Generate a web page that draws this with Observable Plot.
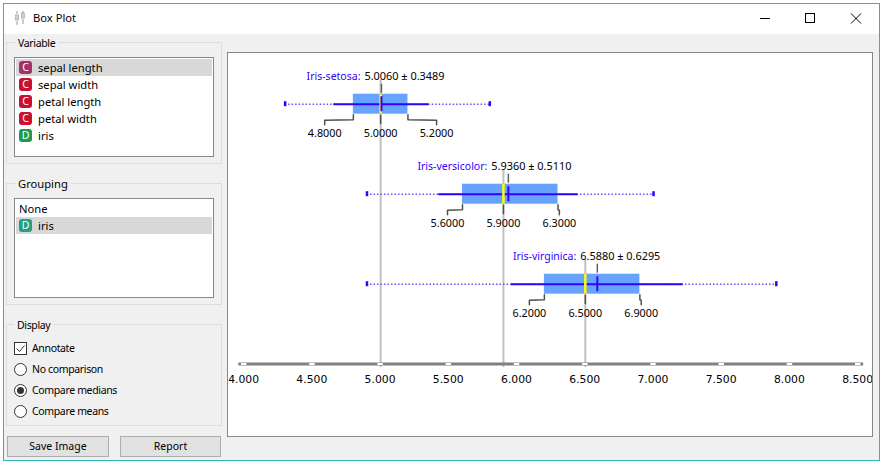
<!DOCTYPE html>
<html>
<head>
<meta charset="utf-8">
<script src="https://cdn.jsdelivr.net/npm/d3@7"></script>
<script src="https://cdn.jsdelivr.net/npm/@observablehq/plot@0.6"></script>
<style>
html,body{margin:0;padding:0;background:#fff;}
body{width:883px;height:464px;position:relative;overflow:hidden;font-family:"Noto Sans",sans-serif;font-size:11.2px;color:#000;}
.a{position:absolute;box-sizing:border-box;}
.t{position:absolute;line-height:16px;height:16px;white-space:nowrap;}
.s{font-size:10.5px;letter-spacing:-.35px;}
.group{border:1px solid #dcdcdc;}
.list{background:#fff;border:1px solid #828790;}
.sel{background:#d8d8d8;}
.ic{position:absolute;box-sizing:border-box;width:13px;height:13px;border-radius:3px;color:#fff;font-size:10.5px;line-height:13px;text-align:center;}
.radio{position:absolute;box-sizing:border-box;width:13px;height:13px;border-radius:50%;border:1px solid #333;background:#fff;}
.btn{position:absolute;box-sizing:border-box;background:#e1e1e1;border:1px solid #adadad;height:21px;line-height:19px;text-align:center;font-size:10.5px;}
</style>
</head>
<body>
<div class="a" id="win" style="left:3px;top:3px;width:877px;height:458px;background:#f0f0f0;border:1px solid #2db4c2;"></div>
<div class="a" style="left:4px;top:4px;width:875px;height:30px;background:#fff;"></div>
<svg class="a" style="left:14px;top:10px" width="12" height="16" viewBox="0 0 12 16">
  <g fill="#d0d0d0" stroke="#999" stroke-width=".6"><rect x="1.5" y="5" width="3" height="5"/><rect x="7.5" y="3" width="3" height="5"/></g>
  <g stroke="#999" stroke-width="1"><path d="M3 1v3M3 11v4M9 1v2M9 9v5"/></g>
</svg>
<div class="t" style="left:33px;top:10px;">Box Plot</div>
<svg class="a" style="left:755px;top:8px" width="112" height="20" viewBox="0 0 112 20">
  <path d="M5 10.5h10" stroke="#000" fill="none"/>
  <rect x="50.5" y="5.5" width="9" height="9" fill="none" stroke="#000"/>
  <path d="M96 5.5l10 10M106 5.5l-10 10" stroke="#000" fill="none"/>
</svg>

<div class="a group" style="left:6px;top:42px;width:216px;height:122px;"></div>
<div class="t s" style="left:15px;top:35px;background:#f0f0f0;padding:0 3px;">Variable</div>
<div class="a list" style="left:14px;top:57px;width:200px;height:100px;"></div>
<div class="a sel" style="left:16px;top:59px;width:196px;height:17px;"></div>
<div class="ic" style="left:19px;top:61px;background:#a5306b;">C</div><div class="t" style="left:38px;top:60px;">sepal length</div>
<div class="ic" style="left:19px;top:78px;background:#c9102f;">C</div><div class="t" style="left:38px;top:77px;">sepal width</div>
<div class="ic" style="left:19px;top:95px;background:#c9102f;">C</div><div class="t" style="left:38px;top:94px;">petal length</div>
<div class="ic" style="left:19px;top:112px;background:#c9102f;">C</div><div class="t" style="left:38px;top:111px;">petal width</div>
<div class="ic" style="left:19px;top:129px;background:#1f9a4c;">D</div><div class="t" style="left:38px;top:128px;">iris</div>

<div class="a group" style="left:6px;top:183px;width:216px;height:122px;"></div>
<div class="t" style="left:15px;top:176px;background:#f0f0f0;padding:0 3px;">Grouping</div>
<div class="a list" style="left:14px;top:198px;width:200px;height:100px;"></div>
<div class="t" style="left:19px;top:201px;">None</div>
<div class="a sel" style="left:16px;top:217px;width:196px;height:17px;"></div>
<div class="ic" style="left:19px;top:219px;background:#25a07f;">D</div><div class="t" style="left:38px;top:218px;">iris</div>

<div class="a group" style="left:6px;top:324px;width:216px;height:102px;"></div>
<div class="t s" style="left:14px;top:317px;background:#f0f0f0;padding:0 3px;">Display</div>
<div class="a" style="left:14px;top:342px;width:13px;height:13px;background:#fff;border:1px solid #333;"></div>
<svg class="a" style="left:14px;top:342px" width="13" height="13"><path d="M2.5 6.5l3 3 5-6" fill="none" stroke="#333"/></svg>
<div class="t s" style="left:32px;top:340px;">Annotate</div>
<div class="radio" style="left:14px;top:363px;"></div><div class="t s" style="left:32px;top:361px;">No comparison</div>
<div class="radio" style="left:14px;top:384px;"></div><div class="a" style="left:17px;top:387px;width:7px;height:7px;border-radius:50%;background:#333;"></div><div class="t s" style="left:32px;top:382px;">Compare medians</div>
<div class="radio" style="left:14px;top:405px;"></div><div class="t s" style="left:32px;top:403px;">Compare means</div>
<div class="btn" style="left:7px;top:436px;width:102px;">Save Image</div>
<div class="btn" style="left:120px;top:436px;width:101px;">Report</div>

<div class="a" id="panel" style="left:227px;top:52px;width:646px;height:385px;background:#fff;border:1px solid #828790;overflow:hidden;"></div>

<script>
const species = ["Iris-setosa", "Iris-versicolor", "Iris-virginica"];
const minima  = [4.3, 4.9, 4.9];
const maxima  = [5.8, 7.0, 7.9];
const lowerQ  = [4.8, 5.6, 6.2];
const medians = [5.0, 5.9, 6.5];
const upperQ  = [5.2, 6.3, 6.9];
const means   = [5.006, 5.936, 6.588];
const stdevs  = [0.3489, 0.5110, 0.6295];
const axisTicks = [4, 4.5, 5, 5.5, 6, 6.5, 7, 7.5, 8, 8.5];

const rows = species.map((name, i) => ({
  name, row: i, min: minima[i], max: maxima[i], q1: lowerQ[i], med: medians[i], q3: upperQ[i],
  mean: means[i], sd: stdevs[i]
}));

// scale geometry (1 row = 90 px, x = 136.44 px per unit)
const rowPx = 90;
const off = px => px / rowPx;
const axisRow = 2.8865;
const labelGap = 0.41;
const fmt4 = d3.format(".4f");
const lowLabel = d => Math.min(d.q1, d.med - labelGap);
const highLabel = d => Math.max(d.q3, d.med + labelGap);

const connectors = rows.flatMap(d => [
  [d.q1, 10.5, "l"], [d.q1, 15.5, "l"], [lowLabel(d), 16, "l"], [lowLabel(d), 20.5, "l"],
  [d.q3, 10.5, "h"], [d.q3, 15.5, "h"], [highLabel(d), 16, "h"], [highLabel(d), 20.5, "h"]
].map(([x, o, side]) => ({x, y: d.row + off(o), id: d.name + side})));

const blue = "#3300ff";
const chartFont = "'DejaVu Sans', sans-serif";
const labelFont = "'Noto Sans', sans-serif";

const chart = Plot.plot({
  width: 644, height: 383,
  marginTop: 0, marginRight: 0, marginLeft: 0, marginBottom: 72,
  x: {domain: [4, 8.5], range: [15.7, 629.7]},
  y: {domain: [0, 3], range: [50.7, 320.7], axis: null},
  style: {background: "transparent", overflow: "hidden", display: "block", maxWidth: "none"},
  marks: [
    // comparison lines at the medians
    Plot.ruleX(rows, {x: "med", y1: d => d.row - off(24.5), y2: axisRow + off(3.5), stroke: "#c0c0c0", strokeWidth: 2}),
    // axis
    Plot.ruleY([axisRow], {x1: 3.96, x2: 8.54, stroke: "#808080", strokeWidth: 3}),
    Plot.ruleY(axisTicks, {y: axisRow, x1: d => d - 0.02, x2: d => d + 0.02, stroke: "#fff", strokeWidth: 2}),
    Plot.axisX(axisTicks, {anchor: "bottom", tickSize: 0, tickPadding: 11, label: null, tickFormat: d3.format(".3f"),
      fontSize: 10.8, fontFamily: chartFont, fill: "#000", dx: -0.6}),
    // min to max
    Plot.ruleY(rows, {y: "row", x1: "min", x2: "max", stroke: "#6a4dff", strokeWidth: 1.5, strokeDasharray: "1.5 2"}),
    Plot.ruleX(rows.flatMap(d => [{x: d.min, row: d.row}, {x: d.max, row: d.row}]), {x: "x", y1: d => d.row - off(2.5), y2: d => d.row + off(2.5), stroke: blue, strokeWidth: 2.5}),
    // box
    Plot.rect(rows, {x1: "q1", x2: "q3", y1: d => d.row - off(10), y2: d => d.row + off(10), fill: "#66a3ff"}),
    // mean +/- sd
    Plot.ruleY(rows, {y: "row", x1: d => d.mean - d.sd, x2: d => d.mean + d.sd, stroke: blue, strokeWidth: 2}),
    // median
    Plot.ruleX(rows, {x: "med", y1: d => d.row - off(10), y2: d => d.row + off(10), stroke: "#ffff00", strokeWidth: 2.5}),
    // mean
    Plot.ruleX(rows, {x: "mean", y1: d => d.row - off(7.5), y2: d => d.row + off(7.5), stroke: blue, strokeWidth: 2}),
    Plot.ruleX(rows, {x: "mean", y1: d => d.row - off(20), y2: d => d.row - off(11), stroke: "#606060", strokeWidth: 1.5}),
    Plot.ruleX(rows, {x: "med", y1: d => d.row + off(11), y2: d => d.row + off(20.5), stroke: "#505050", strokeWidth: 1.5}),
    // connectors
    Plot.line(connectors, {x: "x", y: "y", z: "id", stroke: "#505050", strokeWidth: 1.5, curve: "linear"}),
    // annotations
    Plot.text(rows, {x: "mean", y: "row", dy: -28, dx: -21, text: d => d.name + ":", textAnchor: "end", fill: blue, fontSize: 10.5, fontFamily: labelFont}),
    Plot.text(rows, {x: "mean", y: "row", dy: -28, dx: -17, text: d => `${fmt4(d.mean)} ± ${fmt4(d.sd)}`, textAnchor: "start", fill: "#000", fontSize: 10.9, fontFamily: labelFont}),
    Plot.text(rows, {x: lowLabel, y: "row", dy: 29.5, text: d => fmt4(d.q1), fill: "#000", fontSize: 10.8, fontFamily: labelFont}),
    Plot.text(rows, {x: "med", y: "row", dy: 29.5, text: d => fmt4(d.med), fill: "#000", fontSize: 10.8, fontFamily: labelFont}),
    Plot.text(rows, {x: highLabel, y: "row", dy: 29.5, text: d => fmt4(d.q3), fill: "#000", fontSize: 10.8, fontFamily: labelFont})
  ]
});
document.getElementById("panel").appendChild(chart);
</script>
</body>
</html>
